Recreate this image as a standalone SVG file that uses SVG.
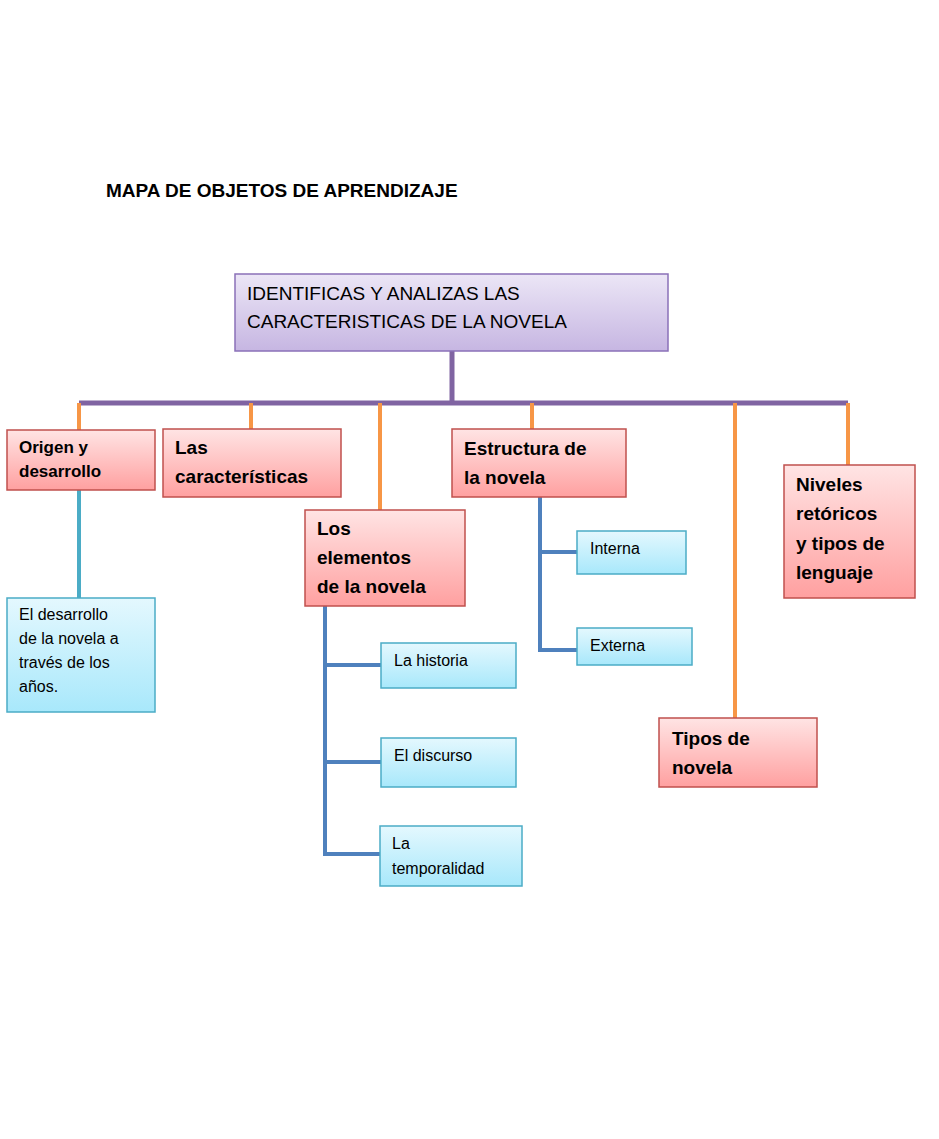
<svg xmlns="http://www.w3.org/2000/svg" width="939" height="1139" viewBox="0 0 939 1139">
<defs>
<linearGradient id="gp" x1="0" y1="0" x2="0" y2="1"><stop offset="0" stop-color="#ece6f6"/><stop offset="1" stop-color="#c6b6e2"/></linearGradient>
<linearGradient id="gr" x1="0" y1="0" x2="0" y2="1"><stop offset="0" stop-color="#ffe4e4"/><stop offset="1" stop-color="#ffa0a0"/></linearGradient>
<linearGradient id="gc" x1="0" y1="0" x2="0" y2="1"><stop offset="0" stop-color="#e4f8fe"/><stop offset="1" stop-color="#a8e8fb"/></linearGradient>
<style>
.p{fill:url(#gp);stroke:#8a70b8;stroke-width:1.5}
.r{fill:url(#gr);stroke:#c0504d;stroke-width:1.5}
.c{fill:url(#gc);stroke:#4bacc6;stroke-width:1.5}
.sh{fill:none;stroke:#000;stroke-width:1;stroke-dasharray:1 1.5}
text{font-family:"Liberation Sans",Arial,sans-serif;fill:#000}
.b{font-weight:bold;font-size:19px}
.s{font-size:16px}
.t{font-size:19px}
.o{stroke:#f79646;stroke-width:4;fill:none}
.bl{stroke:#4f81bd;stroke-width:4;fill:none}
</style>
</defs>
<rect width="939" height="1139" fill="#fff"/>
<text x="106" y="197" class="b">MAPA DE OBJETOS DE APRENDIZAJE</text>
<g id="connectors">
<path d="M452 351V403M79 403H848" stroke="#8064a2" stroke-width="5" fill="none"/>
<path class="o" d="M79 403V430M251 403V429M380 403V510M532 403V429M735 403V718M848 403V465"/>
<path d="M79 490V598" stroke="#4bacc6" stroke-width="4" fill="none"/>
<path class="bl" d="M325 606V854H380M325 665H381M325 762H381"/>
<path class="bl" d="M540 497V650H577M540 552H577"/>
</g>
<g id="n0"><rect class="p" x="235" y="274" width="433" height="77"/><text class="t" x="247" y="300">IDENTIFICAS Y ANALIZAS LAS</text><text class="t" x="247" y="328">CARACTERISTICAS DE LA NOVELA</text></g>
<g id="n1"><rect class="r" x="7" y="430" width="148" height="60"/><text class="b" x="19" y="453" style="font-size:17px">Origen y</text><text class="b" x="19" y="477" style="font-size:17px">desarrollo</text></g>
<g id="n2"><rect class="r" x="163" y="429" width="178" height="68"/><text class="b" x="175" y="454">Las</text><text class="b" x="175" y="483">características</text></g>
<g id="n3"><rect class="r" x="305" y="510" width="160" height="96"/><text class="b" x="317" y="535">Los</text><text class="b" x="317" y="564">elementos</text><text class="b" x="317" y="593">de la novela</text></g>
<g id="n4"><rect class="r" x="452" y="429" width="174" height="68"/><text class="b" x="464" y="455">Estructura de</text><text class="b" x="464" y="484">la novela</text></g>
<g id="n5"><rect class="r" x="784" y="465" width="131" height="133"/><text class="b" x="796" y="491">Niveles</text><text class="b" x="796" y="520">retóricos</text><text class="b" x="796" y="550">y tipos de</text><text class="b" x="796" y="579">lenguaje</text></g>
<g id="n6"><rect class="r" x="659" y="718" width="158" height="69"/><text class="b" x="672" y="745">Tipos de</text><text class="b" x="672" y="774">novela</text></g>
<g id="n7"><rect class="c" x="7" y="598" width="148" height="114"/><text class="s" x="19" y="620">El desarrollo</text><text class="s" x="19" y="644">de la novela a</text><text class="s" x="19" y="668">través de los</text><text class="s" x="19" y="692">años.</text></g>
<g id="n8"><rect class="c" x="381" y="643" width="135" height="45"/><text class="s" x="394" y="666">La historia</text></g>
<g id="n9"><rect class="c" x="381" y="738" width="135" height="49"/><text class="s" x="394" y="761">El discurso</text></g>
<g id="n10"><rect class="c" x="380" y="826" width="142" height="60"/><text class="s" x="392" y="849">La</text><text class="s" x="392" y="874">temporalidad</text></g>
<g id="n11"><rect class="c" x="577" y="531" width="109" height="43"/><text class="s" x="590" y="554">Interna</text></g>
<g id="n12"><rect class="c" x="577" y="628" width="115" height="37"/><text class="s" x="590" y="651">Externa</text></g>
</svg>
